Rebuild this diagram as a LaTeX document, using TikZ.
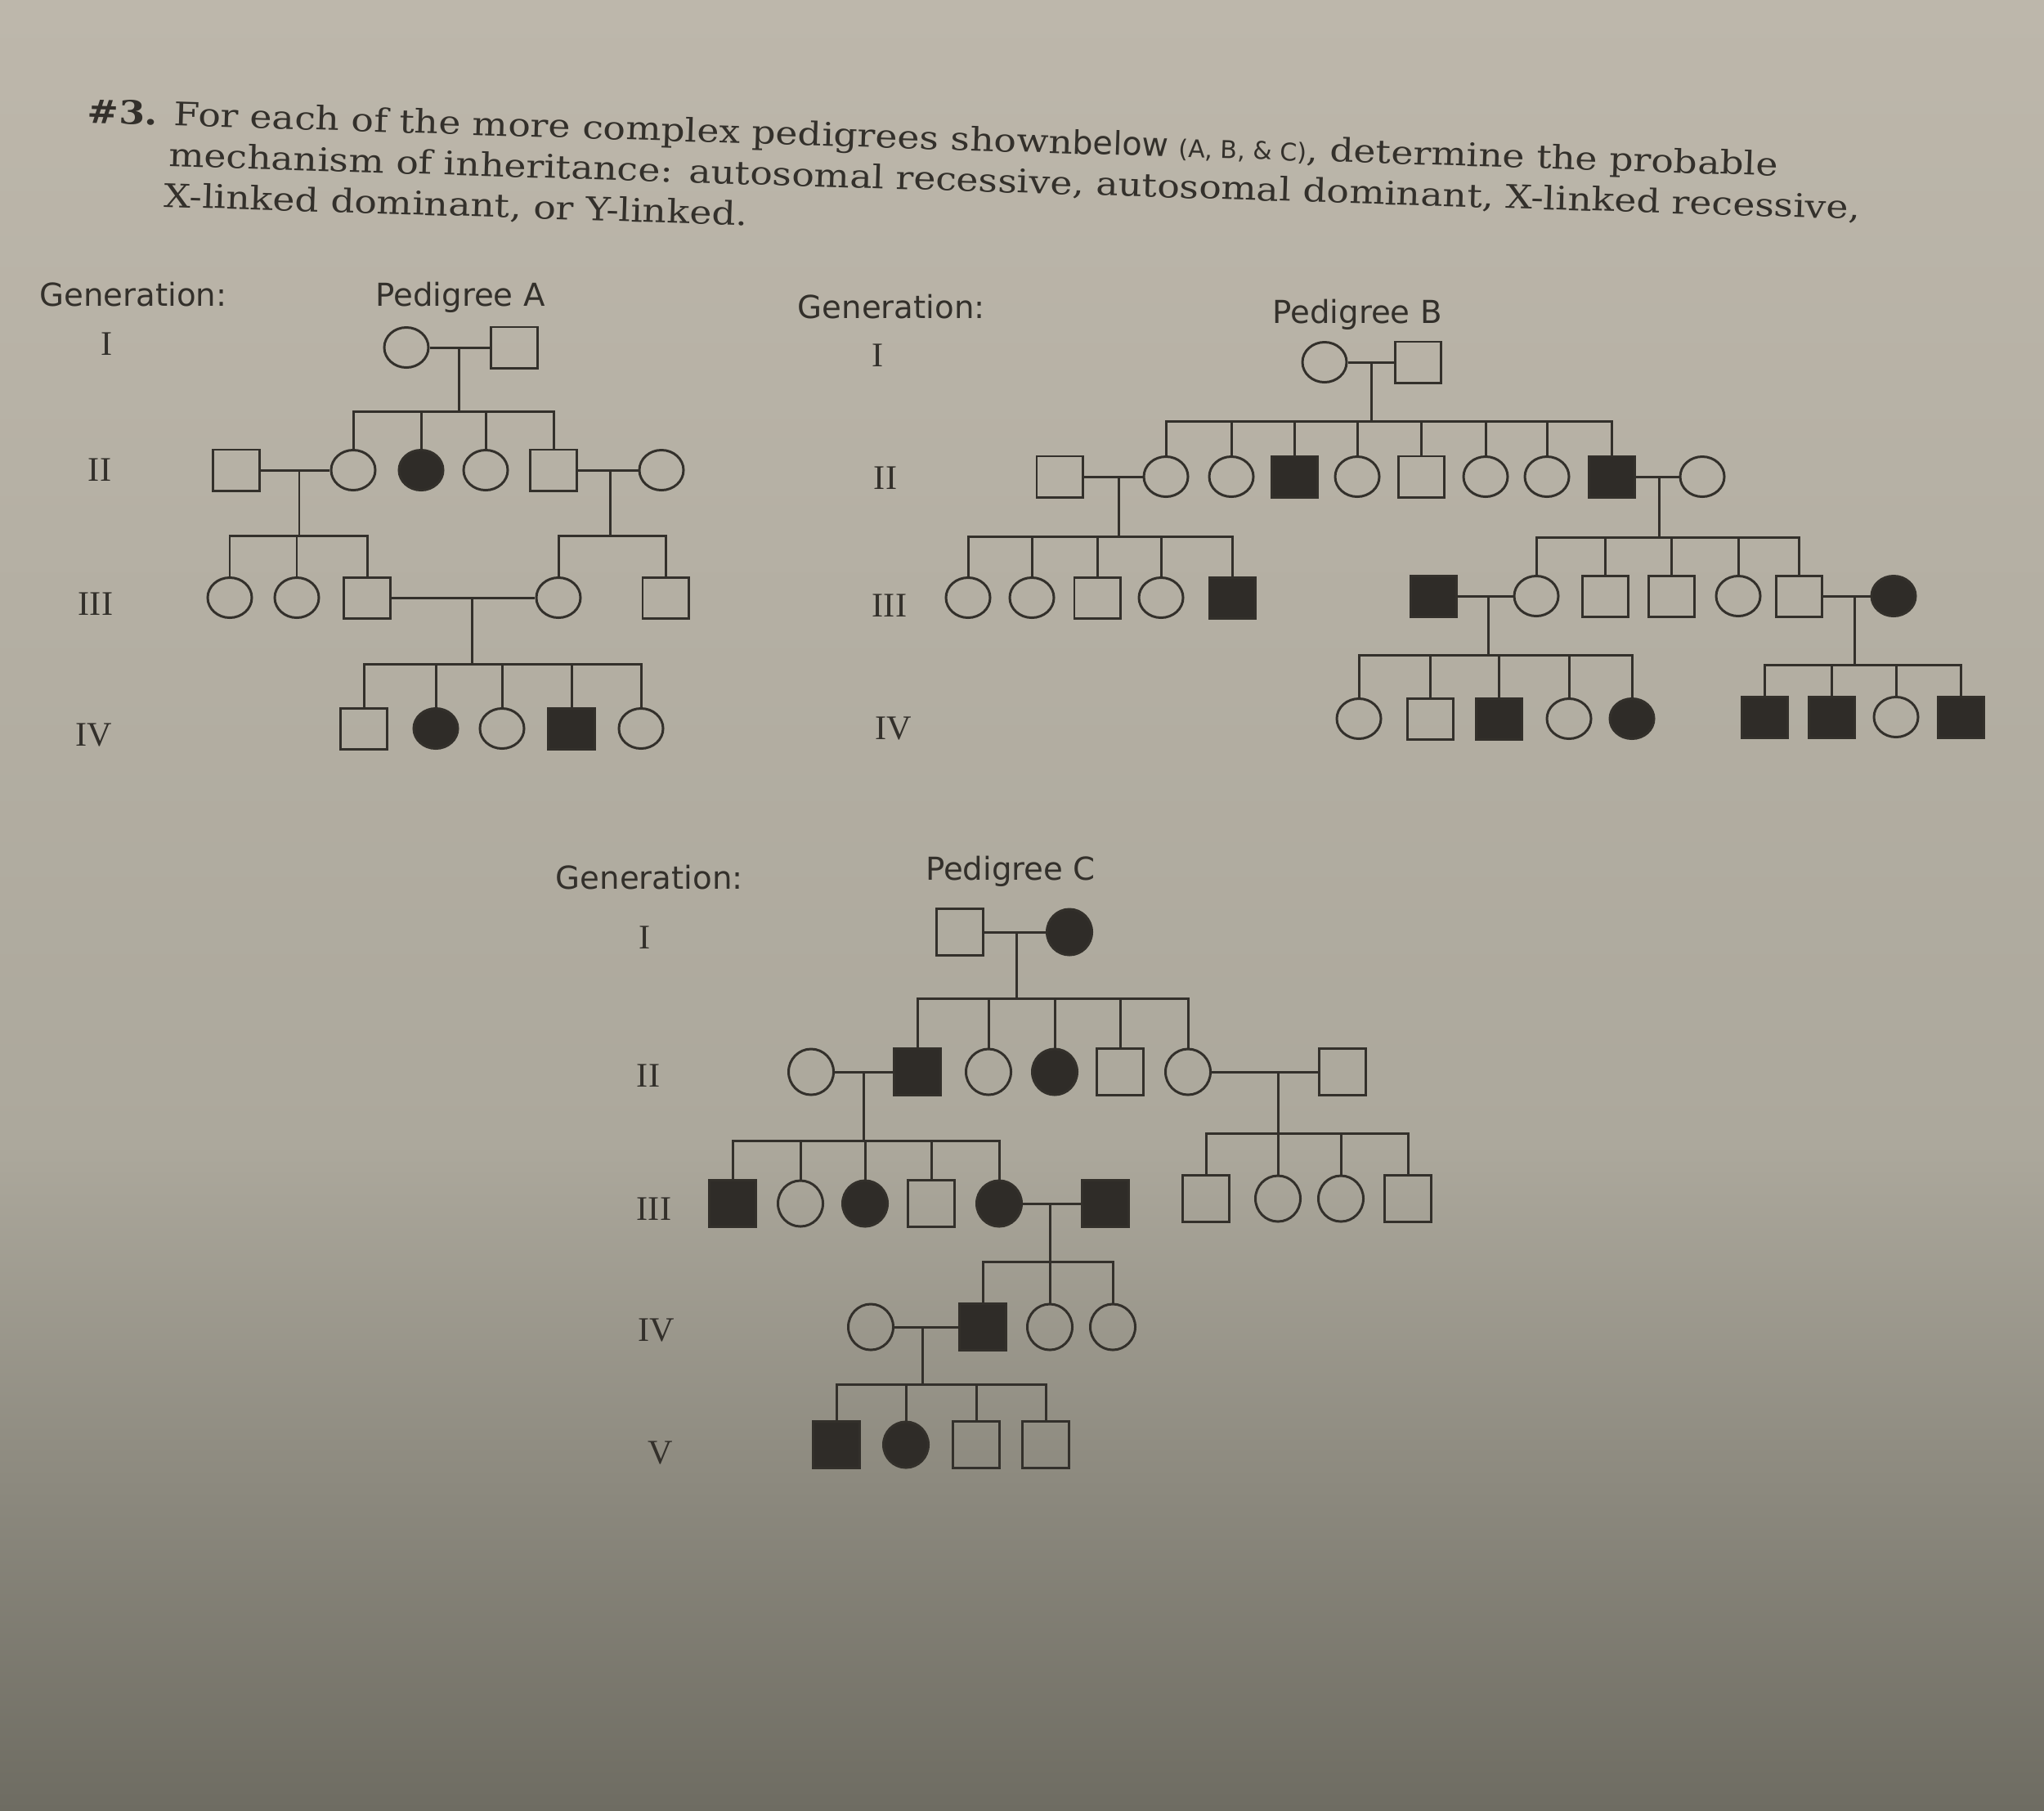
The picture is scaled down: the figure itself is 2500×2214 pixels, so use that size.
\documentclass[tikz,border=0pt]{standalone}
\usepackage{fontspec}
\setmainfont{Liberation Serif}
\setsansfont{DejaVu Sans}
\newfontfamily\qfont[FakeStretch=1.15]{DejaVu Serif}
\usetikzlibrary{shapes.geometric}
\definecolor{ink}{HTML}{33302B}
\definecolor{inkfill}{HTML}{2F2C28}
\definecolor{paperA}{HTML}{BDB7AB}
\definecolor{paperB}{HTML}{ACA89C}
\definecolor{paperC}{HTML}{6E6C62}

\begin{document}
\begin{tikzpicture}[
    x=0.01cm, y=-0.01cm,
    ind/.style={draw=ink, line width=0.85pt, inner sep=0pt},
    male/.style={ind, rectangle, minimum width=0.56cm, minimum height=0.5cm},
    female/.style={ind, ellipse, minimum width=0.54cm, minimum height=0.49cm},
    aff/.style={fill=inkfill},
    link/.style={draw=ink, line width=0.85pt},
    gen/.style={text=ink, inner sep=0pt, font=\fontsize{12}{12}\selectfont},
    head/.style={text=ink, inner sep=0pt, font=\sffamily\fontsize{11}{11}\selectfont},
    qtext/.style={text=ink, inner sep=0pt, align=left, rotate=-1.8, font=\qfont\fontsize{11.3}{14.2}\selectfont}
]
% paper
\useasboundingbox (0,0) rectangle (2500,2214);
\shade[top color=paperA, bottom color=paperB] (0,0) rectangle (2500,1400);
\shade[top color=paperB, bottom color=paperC] (0,1400) rectangle (2500,2214);

% Question (anchored on the baseline of its last line)
\node[qtext, anchor=base west] (quest) at (103,250)
  {\makebox[1.06cm][l]{\bfseries\#3.}For each of the more complex pedigrees shown{\sffamily below \fontsize{8.5}{9}\selectfont(A, B, \& C)}, determine the probable\\
   \hspace*{1.01cm}mechanism of inheritance: autosomal recessive, autosomal dominant, X-linked recessive,\\
   \hspace*{0.97cm}X-linked dominant, or Y-linked.};

% ---------------- Pedigree A ----------------
\node[head, anchor=west] (aGen) at (48,360) {Generation:};
\node[head] (aHead) at (563,364) {Pedigree A};
\node[gen] (aI) at (131,421) {I};
\node[gen] (aII) at (122,575) {II};
\node[gen] (aIII) at (117,739) {III};
\node[gen] (aIV) at (115,899) {IV};

% generation I
\node[female] (a1a) at (497,425) {};
\node[male] (a1b) at (629,425) {};
% generation II
\node[male] (a2a) at (289,575) {};
\node[female] (a2b) at (432,575) {};
\node[female, aff] (a2c) at (515,575) {};
\node[female] (a2d) at (594,575) {};
\node[male] (a2e) at (677,575) {};
\node[female] (a2f) at (809,575) {};
% generation III
\node[female] (a3a) at (281,731) {};
\node[female] (a3b) at (363,731) {};
\node[male] (a3c) at (449,731) {};
\node[female] (a3d) at (683,731) {};
\node[male] (a3e) at (814,731) {};
% generation IV
\node[male] (a4a) at (445,891) {};
\node[female, aff] (a4b) at (533,891) {};
\node[female] (a4c) at (614,891) {};
\node[male, aff] (a4d) at (699,891) {};
\node[female] (a4e) at (784,891) {};

% matings and sibships
\coordinate (a1m) at (561,425); \coordinate (a1s) at (561,503);
\draw[link] (a1a) -- (a1b) (a1m) -- (a1s);
\foreach \k in {a2b,a2c,a2d,a2e} \draw[link] (\k.north) |- (a1s);
\coordinate (a2m) at (366,575); \coordinate (a2s) at (366,655);
\draw[link] (a2a) -- (a2b) (a2m) -- (a2s);
\foreach \k in {a3a,a3b,a3c} \draw[link] (\k.north) |- (a2s);
\coordinate (a2n) at (746,575); \coordinate (a2t) at (746,655);
\draw[link] (a2e) -- (a2f) (a2n) -- (a2t);
\foreach \k in {a3d,a3e} \draw[link] (\k.north) |- (a2t);
\coordinate (a3m) at (577,731); \coordinate (a3s) at (577,812);
\draw[link] (a3c) -- (a3d) (a3m) -- (a3s);
\foreach \k in {a4a,a4b,a4c,a4d,a4e} \draw[link] (\k.north) |- (a3s);

% ---------------- Pedigree B ----------------
\node[head, anchor=west] (bGen) at (975,375) {Generation:};
\node[head] (bHead) at (1660,385) {Pedigree B};
\node[gen] (bI) at (1074,435) {I};
\node[gen] (bII) at (1083,585) {II};
\node[gen] (bIII) at (1088,741) {III};
\node[gen] (bIV) at (1093,891) {IV};

% generation I
\node[female] (b1a) at (1620,443) {};
\node[male] (b1b) at (1734,443) {};
% generation II
\node[male] (b2a) at (1296,583) {};
\node[female] (b2b) at (1426,583) {};
\node[female] (b2c) at (1506,583) {};
\node[male, aff] (b2d) at (1583,583) {};
\node[female] (b2e) at (1660,583) {};
\node[male] (b2f) at (1738,583) {};
\node[female] (b2g) at (1817,583) {};
\node[female] (b2h) at (1892,583) {};
\node[male, aff] (b2i) at (1971,583) {};
\node[female] (b2j) at (2082,583) {};
% generation III
\node[female] (b3a) at (1184,731) {};
\node[female] (b3b) at (1262,731) {};
\node[male] (b3c) at (1342,731) {};
\node[female] (b3d) at (1420,731) {};
\node[male, aff] (b3e) at (1507,731) {};
\node[male, aff] (b3f) at (1753,729) {};
\node[female] (b3g) at (1879,729) {};
\node[male] (b3h) at (1963,729) {};
\node[male] (b3i) at (2044,729) {};
\node[female] (b3j) at (2126,729) {};
\node[male] (b3k) at (2200,729) {};
\node[female, aff] (b3l) at (2316,729) {};
% generation IV
\node[female] (b4a) at (1662,879) {};
\node[male] (b4b) at (1749,879) {};
\node[male, aff] (b4c) at (1833,879) {};
\node[female] (b4d) at (1919,879) {};
\node[female, aff] (b4e) at (1996,879) {};
\node[male, aff] (b4f) at (2158,877) {};
\node[male, aff] (b4g) at (2240,877) {};
\node[female] (b4h) at (2319,877) {};
\node[male, aff] (b4i) at (2398,877) {};

% matings and sibships
\coordinate (b1m) at (1677,443); \coordinate (b1s) at (1677,515);
\draw[link] (b1a) -- (b1b) (b1m) -- (b1s);
\foreach \k in {b2b,b2c,b2d,b2e,b2f,b2g,b2h,b2i} \draw[link] (\k.north) |- (b1s);
\coordinate (b2m) at (1368,583); \coordinate (b2s) at (1368,656);
\draw[link] (b2a) -- (b2b) (b2m) -- (b2s);
\foreach \k in {b3a,b3b,b3c,b3d,b3e} \draw[link] (\k.north) |- (b2s);
\coordinate (b2n) at (2029,583); \coordinate (b2t) at (2029,657);
\draw[link] (b2i) -- (b2j) (b2n) -- (b2t);
\foreach \k in {b3g,b3h,b3i,b3j,b3k} \draw[link] (\k.north) |- (b2t);
\coordinate (b3m) at (1820,729); \coordinate (b3s) at (1820,801);
\draw[link] (b3f) -- (b3g) (b3m) -- (b3s);
\foreach \k in {b4a,b4b,b4c,b4d,b4e} \draw[link] (\k.north) |- (b3s);
\coordinate (b3n) at (2268,729); \coordinate (b3t) at (2268,813);
\draw[link] (b3k) -- (b3l) (b3n) -- (b3t);
\foreach \k in {b4f,b4g,b4h,b4i} \draw[link] (\k.north) |- (b3t);

% ---------------- Pedigree C ----------------
\begin{scope}[male/.append style={minimum height=0.57cm, minimum width=0.57cm},
              female/.append style={minimum height=0.56cm, minimum width=0.55cm}]
\node[head, anchor=west] (cGen) at (679,1073) {Generation:};
\node[head] (cHead) at (1236,1066) {Pedigree C};
\node[gen] (cI) at (789,1147) {I};
\node[gen] (cII) at (793,1316) {II};
\node[gen] (cIII) at (800,1479) {III};
\node[gen] (cIV) at (803,1627) {IV};
\node[gen] (cV) at (808,1777) {V};

% generation I
\node[male] (c1a) at (1174,1140) {};
\node[female, aff] (c1b) at (1308,1140) {};
% generation II
\node[female] (c2a) at (992,1311) {};
\node[male, aff] (c2b) at (1122,1311) {};
\node[female] (c2c) at (1209,1311) {};
\node[female, aff] (c2d) at (1290,1311) {};
\node[male] (c2e) at (1370,1311) {};
\node[female] (c2f) at (1453,1311) {};
\node[male] (c2g) at (1642,1311) {};
% generation III
\node[male, aff] (c3a) at (896,1472) {};
\node[female] (c3b) at (979,1472) {};
\node[female, aff] (c3c) at (1058,1472) {};
\node[male] (c3d) at (1139,1472) {};
\node[female, aff] (c3e) at (1222,1472) {};
\node[male, aff] (c3f) at (1352,1472) {};
\node[male] (c3g) at (1475,1466) {};
\node[female] (c3h) at (1563,1466) {};
\node[female] (c3i) at (1640,1466) {};
\node[male] (c3j) at (1722,1466) {};
% generation IV
\node[female] (c4a) at (1065,1623) {};
\node[male, aff] (c4b) at (1202,1623) {};
\node[female] (c4c) at (1284,1623) {};
\node[female] (c4d) at (1361,1623) {};
% generation V
\node[male, aff] (c5a) at (1023,1767) {};
\node[female, aff] (c5b) at (1108,1767) {};
\node[male] (c5c) at (1194,1767) {};
\node[male] (c5d) at (1279,1767) {};
\end{scope}

% matings and sibships
\coordinate (c1m) at (1243,1140); \coordinate (c1s) at (1243,1221);
\draw[link] (c1a) -- (c1b) (c1m) -- (c1s);
\foreach \k in {c2b,c2c,c2d,c2e,c2f} \draw[link] (\k.north) |- (c1s);
\coordinate (c2m) at (1056,1311); \coordinate (c2s) at (1056,1395);
\draw[link] (c2a) -- (c2b) (c2m) -- (c2s);
\foreach \k in {c3a,c3b,c3c,c3d,c3e} \draw[link] (\k.north) |- (c2s);
\coordinate (c2n) at (1563,1311); \coordinate (c2t) at (1563,1386);
\draw[link] (c2f) -- (c2g) (c2n) -- (c2t);
\foreach \k in {c3g,c3h,c3i,c3j} \draw[link] (\k.north) |- (c2t);
\coordinate (c3m) at (1284,1472); \coordinate (c3s) at (1284,1543);
\draw[link] (c3e) -- (c3f) (c3m) -- (c3s);
\foreach \k in {c4b,c4c,c4d} \draw[link] (\k.north) |- (c3s);
\coordinate (c4m) at (1128,1623); \coordinate (c4s) at (1128,1693);
\draw[link] (c4a) -- (c4b) (c4m) -- (c4s);
\foreach \k in {c5a,c5b,c5c,c5d} \draw[link] (\k.north) |- (c4s);
\end{tikzpicture}
\end{document}
